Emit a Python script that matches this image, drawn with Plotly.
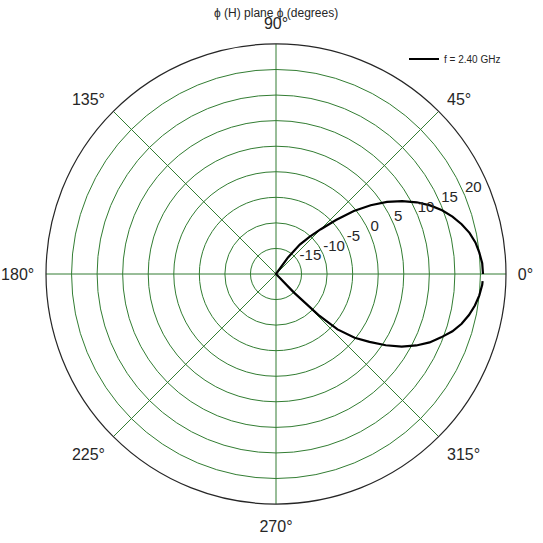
import plotly.graph_objects as go

# Radiation pattern (angle in degrees, gain in dB)
angles_deg = [0, 3, 6, 9, 12, 15, 18, 21, 24, 27, 30, 33, 36, 39, 42, 45, 48, 51, 54, 57,
              60, 90, 135, 180, 225, 270, 300, 312,
              314, 316, 318, 321, 324, 327, 330, 333, 336, 339, 342, 345, 348, 351, 354, 357, 358]
gain_db = [20.5, 20.4, 20.0, 19.5, 18.7, 17.6, 16.3, 14.8, 13.0, 10.9, 8.5, 5.9, 2.9, -0.4, -4.2, -7.6, -10.2, -12.6, -16.0, -20.0,
           -20.0, -20.0, -20.0, -20.0, -20.0, -20.0, -20.0, -20.0,
           -15.0, -8.5, -3.8, -0.2, 2.6, 5.6, 8.4, 10.8, 12.9, 14.6, 16.3, 17.6, 18.6, 19.4, 20.0, 20.4, 20.45]

series_name = "f = 2.40 GHz"
title_text = "ϕ (H) plane ϕ (degrees)"
radial_ticks = [-15, -10, -5, 0, 5, 10, 15, 20]
radial_labels = ["-15", "-10", "-5", "0", "5", "10", "15", "20"]
radial_range = [-20, 25]
radial_label_angle = 22.5
angle_ticks = [0, 45, 90, 135, 180, 225, 270, 315]
angle_labels = ["0°", "45°", "90°", "135°", "180°", "225°", "270°", "315°"]

GRID = "rgb(50,125,50)"
TXT = "#262626"
W = H = 543
cx, cy, R = 276, 274, 230

fig = go.Figure()
fig.add_trace(go.Scatterpolar(
    r=gain_db, theta=angles_deg, mode="lines", name=series_name,
    line=dict(color="black", width=2.2),
))
# radial tick labels, anchored bottom-left at each tick like the reference
fig.add_trace(go.Scatterpolar(
    r=radial_ticks, theta=[radial_label_angle] * len(radial_ticks),
    mode="text", text=radial_labels, textposition="top right",
    textfont=dict(size=15, color=TXT, family="Liberation Sans, Arial, sans-serif"),
    showlegend=False, hoverinfo="skip", cliponaxis=False,
))

fig.update_layout(
    width=W, height=H,
    margin=dict(l=0, r=0, t=0, b=0),
    paper_bgcolor="white",
    font=dict(family="Liberation Sans, Arial, sans-serif", color=TXT),
    showlegend=True,
    legend=dict(x=404 / W, y=1 - 59 / H, xanchor="left", yanchor="middle",
                bgcolor="rgba(0,0,0,0)", font=dict(size=10, color=TXT)),
    polar=dict(
        domain=dict(x=[(cx - R) / W, (cx + R) / W], y=[1 - (cy + R) / H, 1 - (cy - R) / H]),
        bgcolor="white",
        angularaxis=dict(
            rotation=0, direction="counterclockwise",
            tickmode="array", tickvals=angle_ticks, ticktext=angle_labels,
            tickfont=dict(size=16, color=TXT),
            ticks="outside", ticklen=8, tickcolor="rgba(0,0,0,0)",
            showline=True, linecolor=TXT, linewidth=1.2,
            showgrid=True, gridcolor=GRID, gridwidth=1,
        ),
        radialaxis=dict(
            range=radial_range, tickmode="array", tickvals=radial_ticks,
            angle=radial_label_angle, showticklabels=False,
            showline=False, ticks="",
            showgrid=True, gridcolor=GRID, gridwidth=1,
        ),
    ),
    annotations=[dict(text=title_text, x=276 / W, y=1 - 13 / H, xref="paper", yref="paper",
                      showarrow=False, font=dict(size=12, color=TXT),
                      xanchor="center", yanchor="middle")],
)

fig.write_html("out.html", config={"displayModeBar": False},
               post_script="document.body.style.margin='0';")
